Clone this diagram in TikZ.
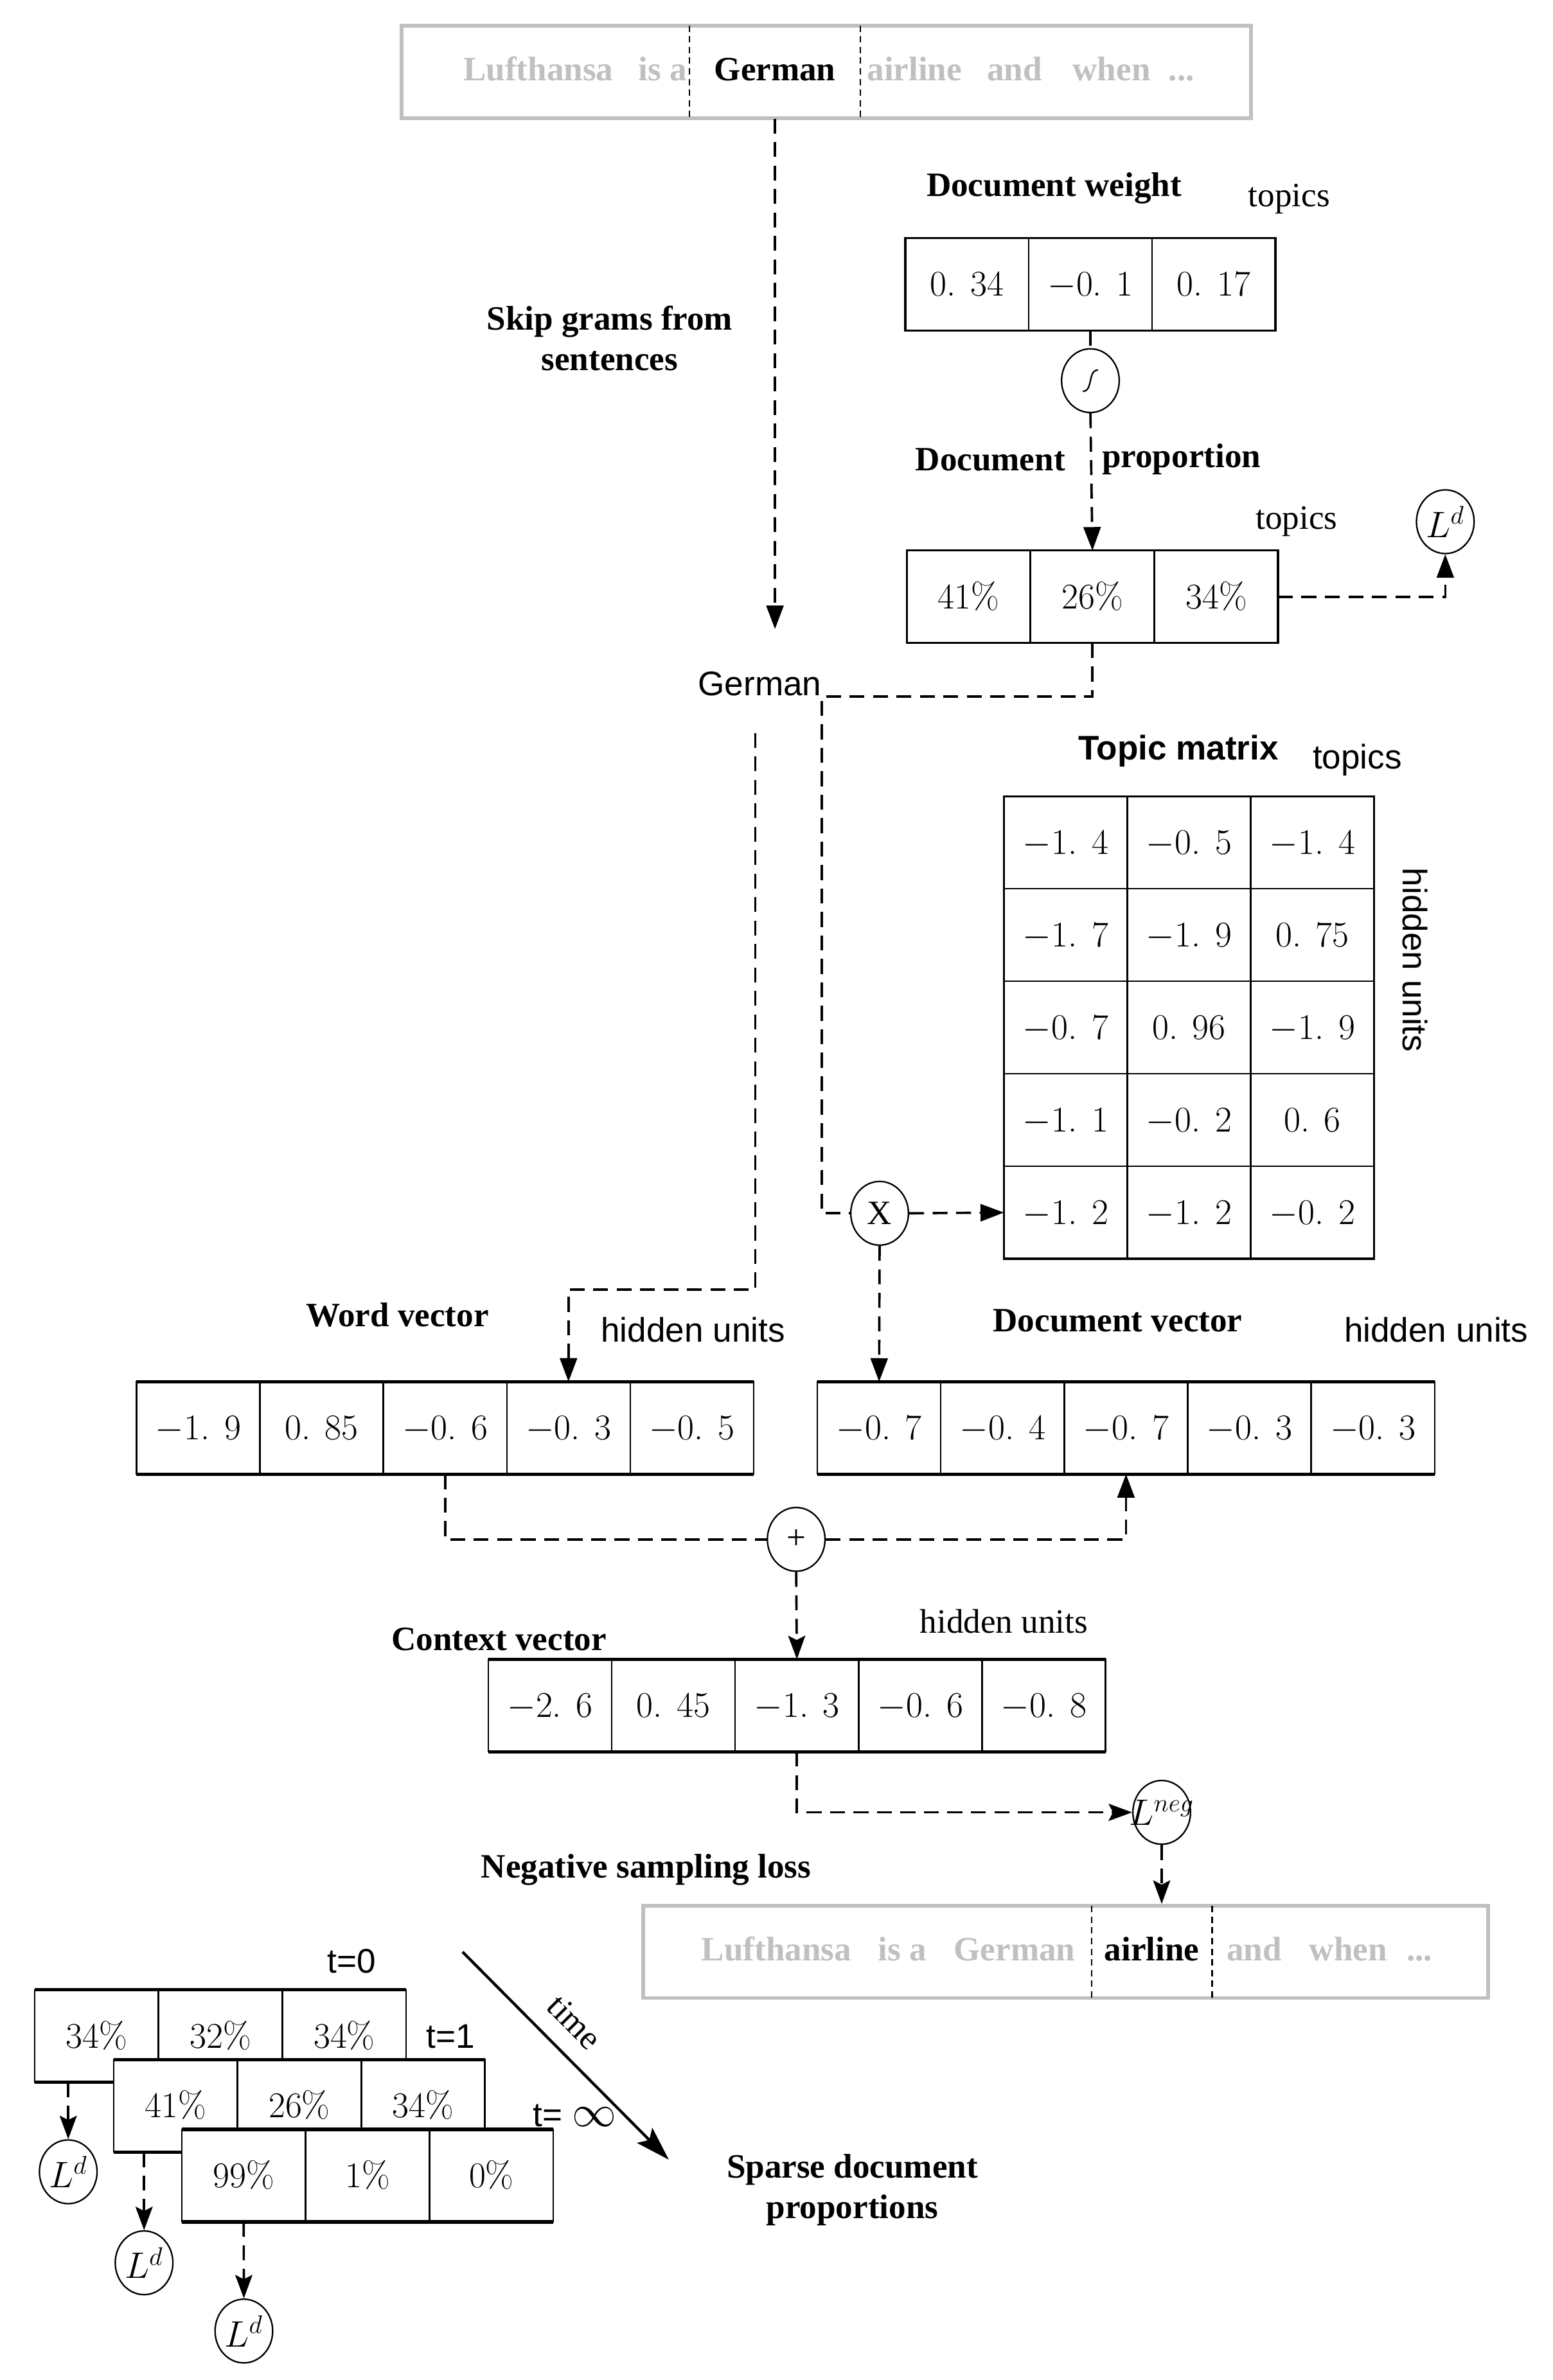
\documentclass[tikz,border=0pt]{standalone}
\usepackage{fontspec}
\newfontfamily\tnr{Liberation Serif}
\newfontfamily\arial{Liberation Sans}
\usetikzlibrary{arrows.meta,shapes.geometric,calc}
\definecolor{lgray}{HTML}{C0C0C0}
\tikzset{
  cell/.style={draw, line width=0.7pt, minimum width=2.033cm, minimum height=1.525cm, inner sep=0pt, outer sep=0pt, anchor=north west, fill=white, font=\fontsize{17}{19}\selectfont, text height=11pt, text depth=0pt},
  lbl/.style={font=\fontsize{16}{19}\selectfont\tnr\bfseries, inner sep=0pt},
  slbl/.style={font=\fontsize{16}{19}\selectfont\arial, inner sep=0pt},
  sblbl/.style={font=\fontsize{16}{19}\selectfont\arial\bfseries, inner sep=0pt},
  rlbl/.style={font=\fontsize{16}{19}\selectfont\tnr, inner sep=0pt},
  conn/.style={line width=1.1pt, dash pattern=on 7pt off 4pt},
  sep/.style={line width=0.7pt, dash pattern=on 3pt off 2pt},
  arr/.style={-{Triangle[length=11pt,width=8pt]}},
  arrs/.style={-{Stealth[length=11pt,width=8pt,inset=2pt]}},
  oper/.style={draw, ellipse, line width=0.7pt, minimum width=0.95cm, minimum height=1.05cm, inner sep=0pt, fill=white},
  word/.style={font=\fontsize{16}{19}\selectfont\tnr\bfseries, text=lgray, inner sep=0pt, text height=12pt, text depth=4pt},
  sentbox/.style={draw=lgray, line width=1.8pt, minimum height=1.52cm, inner sep=0pt},
  thick edge/.style={line width=1.6pt},
  lossl/.style={font=\fontsize{18}{20}\selectfont},
}
\begin{document}
\begin{tikzpicture}[x=0.025cm, y=-0.025cm]
\useasboundingbox (0,0) rectangle (1024,1569.3);
\fill[white] (0,0) rectangle (1024,1569.3);

% ---------- top sentence ----------
\node[sentbox, minimum width=14cm] (sent1) at (545,47.5) {};
\node[word, text=black, minimum width=2.8cm, minimum height=1.52cm] (tg) at (511,47.5) {German};
\draw[sep] (tg.north west) -- (tg.south west);
\draw[sep] (tg.north east) -- (tg.south east);
\node[word] (a1) at (355,47.5) {Lufthansa};
\node[word] (a2) at (437,47.5) {is a};
\node[word] (a3) at (603,47.5) {airline};
\node[word] (a4) at (669,47.5) {and};
\node[word] (a5) at (733,47.5) {when};
\node[word] (a6) at (779,47.5) {...};

% ---------- document weight ----------
\node[lbl] (dwl) at (695,124) {Document weight};
\node[rlbl] (dwt) at (850,131) {topics};
\foreach \v [count=\i] in {0. 34,{$-$0. 1},0. 17}
  \node[cell] (dw\i) at ({597+(\i-1)*81.33},157) {\v};
\draw[line width=1pt] (dw1.north west) rectangle (dw3.south east);
\node[oper] (sig) at (719,251) {};
\draw[line width=0.7pt] ($(sig)+(-5,7)$) .. controls ($(sig)+(2,7)$) and ($(sig)+(-2,-7)$) .. ($(sig)+(5,-7)$);
\draw[conn] (dw2.south) -- (sig.north);

% ---------- document proportion ----------
\node[lbl] (dpl1) at (653,303) {Document};
\node[lbl] (dpl2) at (779,303) {proportion};
\node[rlbl] (dpt) at (855,344) {topics};
\foreach \v [count=\i] in {41\%,26\%,34\%}
  \node[cell] (dp\i) at ({598+(\i-1)*81.67},363) {\v};
\draw[line width=1pt] (dp1.north west) rectangle (dp3.south east);
\draw[conn,arr] (sig.south) -- (dp2.north);
\node[oper] (ld1) at (953,344) {};
\node[lossl] at (ld1) {$L^{d}$};
\draw[conn,arr] (dp3.east) -| (ld1.south);

% ---------- skip grams ----------
\node[lbl, align=center] (skip) at (402,223) {Skip grams from\\sentences};
\node[slbl] (German) at (501,451) {German};
\draw[conn,arr,shorten >=0.7cm] (tg.south) -- (tg.south |- German.north);

% ---------- topic matrix ----------
\node[sblbl] (tml) at (777,495) {Topic matrix};
\node[slbl] (tmt) at (895,501) {topics};
\foreach \r/\a/\b/\c in {1/{$-$1. 4}/{$-$0. 5}/{$-$1. 4},
                         2/{$-$1. 7}/{$-$1. 9}/{0. 75},
                         3/{$-$0. 7}/{0. 96}/{$-$1. 9},
                         4/{$-$1. 1}/{$-$0. 2}/{0. 6},
                         5/{$-$1. 2}/{$-$1. 2}/{$-$0. 2}}{
  \node[cell] (tm\r1) at (662,{525+(\r-1)*61}) {\a};
  \node[cell] (tm\r2) at (743.33,{525+(\r-1)*61}) {\b};
  \node[cell] (tm\r3) at (824.67,{525+(\r-1)*61}) {\c};
}
\draw[line width=1pt] (tm11.north west) rectangle (tm53.south east);
\node[slbl, rotate=-90] (tmh) at (933,633) {hidden units};

\node[oper] (xop) at (580,800) {};
\node[rlbl] at (xop) {X};
\draw[conn] (dp2.south) |- (German.south east) |- (xop.west);
\draw[conn,arr] (xop.east) -- (tm51.west);

% ---------- word vector / document vector ----------
\node[lbl] (wvl) at (262,867) {Word vector};
\node[slbl] (wvh) at (457,877) {hidden units};
\foreach \v [count=\i] in {{$-$1. 9},0. 85,{$-$0. 6},{$-$0. 3},{$-$0. 5}}
  \node[cell] (wv\i) at ({90+(\i-1)*81.4},911) {\v};
\draw[thick edge] (wv1.north west) -- (wv5.north east);
\draw[thick edge] (wv1.south west) -- (wv5.south east);

\node[lbl] (dvl) at (737,871) {Document vector};
\node[slbl] (dvh) at (947,877) {hidden units};
\foreach \v [count=\i] in {{$-$0. 7},{$-$0. 4},{$-$0. 7},{$-$0. 3},{$-$0. 3}}
  \node[cell] (dv\i) at ({539+(\i-1)*81.4},911) {\v};
\draw[thick edge] (dv1.north west) -- (dv5.north east);
\draw[thick edge] (dv1.south west) -- (dv5.south east);

\draw[conn,arr] ($(German.south)+(-3,24)$) -- ++(0,367) -| (wv4.north);
\draw[conn,arr] (xop.south) -- (dv1.north);

% ---------- sum ----------
\node[oper] (plus) at (525,1015) {};
\node[rlbl] at (plus) {+};
\draw[conn] (wv3.south) |- (plus.west);
\draw[conn,arr] (plus.east) -| (dv3.south);

% ---------- context vector ----------
\node[lbl] (cvl) at (329,1081) {Context vector};
\node[rlbl] (cvh) at (662,1069) {hidden units};
\foreach \v [count=\i] in {{$-$2. 6},0. 45,{$-$1. 3},{$-$0. 6},{$-$0. 8}}
  \node[cell] (cv\i) at ({322+(\i-1)*81.4},1094) {\v};
\draw[thick edge] (cv1.north west) -- (cv5.north east);
\draw[thick edge] (cv1.south west) -- (cv5.south east);
\draw[conn,arrs] (plus.south) -- (cv3.north);

\node[oper] (lneg) at (766,1195) {};
\node[font=\fontsize{17}{19}\selectfont] at (lneg) {$L^{neg}$};
\draw[conn,arrs] (cv3.south) |- (lneg.west);

% ---------- bottom sentence ----------
\node[lbl] (nsl) at (426,1233) {Negative sampling loss};
\node[sentbox, minimum width=13.925cm] (sent2) at (702.5,1287) {};
\node[word, text=black, minimum width=1.975cm, minimum height=1.5cm] (bg) at (759.5,1287) {airline};
\draw[sep] (bg.north west) -- (bg.south west);
\draw[sep] (bg.north east) -- (bg.south east);
\node[word] (b1) at (512,1287) {Lufthansa};
\node[word] (b2) at (595,1287) {is a};
\node[word] (b3) at (669,1287) {German};
\node[word] (b4) at (827,1287) {and};
\node[word] (b5) at (889,1287) {when};
\node[word] (b6) at (936,1287) {...};
\draw[conn,arrs] (lneg.south) -- (lneg.south |- sent2.north);

% ---------- time evolution ----------
\node[slbl] (t0) at (232,1293) {t=0};
\foreach \v [count=\i] in {34\%,32\%,34\%}
  \node[cell] (s0\i) at ({23+(\i-1)*81.67},1312) {\v};
\draw[thick edge] (s01.north west) -- (s03.north east);
\draw[thick edge] (s01.south west) -- (s03.south east);

\node[slbl] (t1) at (297,1343) {t=1};
\foreach \v [count=\i] in {41\%,26\%,34\%}
  \node[cell] (s1\i) at ({75+(\i-1)*81.67},1358) {\v};
\draw[thick edge] (s11.north west) -- (s13.north east);
\draw[thick edge] (s11.south west) -- (s13.south east);

\node[slbl] (tinf) at (379,1395) {t= {\fontsize{20}{20}\selectfont$\infty$}};
\foreach \v [count=\i] in {99\%,1\%,0\%}
  \node[cell] (s2\i) at ({120+(\i-1)*81.67},1404) {\v};
\draw[thick edge] (s21.north west) -- (s23.north east);
\draw[thick edge] (s21.south west) -- (s23.south east);

\node[oper] (ld2) at (45,1432) {};
\node[lossl] at (ld2) {$L^{d}$};
\node[oper] (ld3) at (95,1492) {};
\node[lossl] at (ld3) {$L^{d}$};
\node[oper] (ld4) at (160.8,1537) {};
\node[lossl] at (ld4) {$L^{d}$};
\draw[conn,arrs] (ld2.north |- s01.south) -- (ld2.north);
\draw[conn,arrs] (ld3.north |- s11.south) -- (ld3.north);
\draw[conn,arrs] (s21.south) -- (ld4.north);

\coordinate (tA) at (305,1287);
\coordinate (tB) at (441,1424);
\draw[line width=1.3pt, -{Stealth[length=16pt,width=10pt,inset=3pt]}] (tA) -- (tB)
  node[pos=0.44, sloped, above=8pt, rlbl] {time};
\node[lbl, align=center] (sparse) at (562,1444) {Sparse document\\proportions};
\end{tikzpicture}
\end{document}
